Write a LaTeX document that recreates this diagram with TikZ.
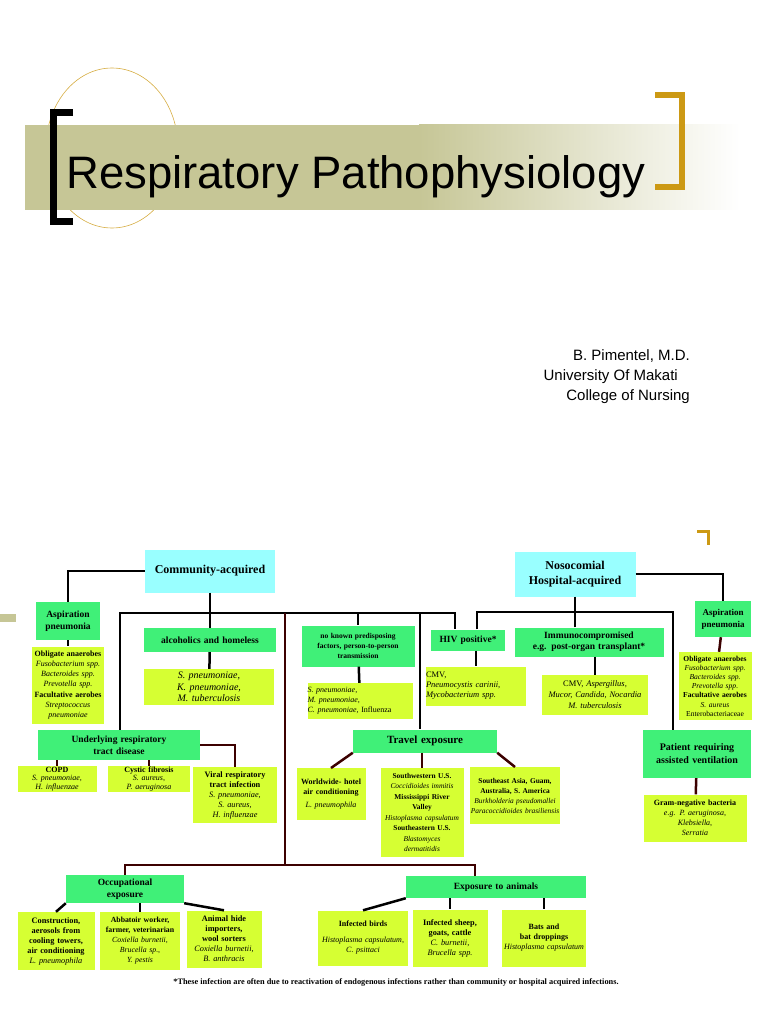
\documentclass[tikz,border=0pt]{standalone}
\usepackage{fontspec}
\setmainfont{Liberation Serif}
\newfontfamily\sansf{Liberation Sans}
\usetikzlibrary{positioning}

\definecolor{boxcyan}{RGB}{153,255,255}
\definecolor{boxgreen}{RGB}{64,240,120}
\definecolor{boxyellow}{RGB}{214,255,51}
\definecolor{titleolive}{RGB}{198,198,150}
\definecolor{bracketgold}{RGB}{204,153,20}
\definecolor{linkred}{RGB}{60,0,0}

\tikzset{
	box/.style={draw=none, align=center, inner xsep=0pt, inner ysep=0pt, font=\bfseries\fontsize{8.5}{9.5}\selectfont},
	cbox/.style={box, fill=boxcyan, font=\bfseries\fontsize{12}{15}\selectfont},
	gbox/.style={box, fill=boxgreen},
	ybox/.style={box, fill=boxyellow, font=\fontsize{7.5}{8.6}\selectfont},
	sz/.style 2 args={text width=#1pt, minimum height=#2pt},
	link/.style={line width=2.5pt, black},
	dlink/.style={line width=2.5pt, linkred},
}

\begin{document}
\begin{tikzpicture}[x=1pt,y=-1pt]
	\useasboundingbox (0,0) rectangle (768,1024);

	% title area
	\draw[bracketgold!80, line width=0.6pt] (112,148) ellipse (66 and 80);
	\fill[titleolive] (25,125) rectangle (420,210);
	\shade[left color=titleolive, right color=white] (419,125) rectangle (740,210);
	\draw[line width=7pt] (73,113) -- (53,113) -- (53,222) -- (73,222);
	\draw[bracketgold, line width=6pt] (655,95) -- (682,95) -- (682,187) -- (655,187);
	\node[anchor=base west, inner sep=0pt, font=\sansf\fontsize{45.5}{50}\selectfont] (title) at (66,189) {Respiratory Pathophysiology};
	\node[anchor=base east, inner sep=0pt, font=\sansf\fontsize{15}{18}\selectfont] (auth) at (690,360) {B. Pimentel, M.D.};
	\node[anchor=base east, inner sep=0pt, font=\sansf\fontsize{15}{18}\selectfont] (univ) at (678,380) {University Of Makati};
	\node[anchor=base east, inner sep=0pt, font=\sansf\fontsize{15}{18}\selectfont] (coll) at (690,400) {College of Nursing};
	\draw[bracketgold, line width=3pt] (697,531) -- (708,531) -- (708,545);
	\fill[titleolive] (0,614) rectangle (16,622);

	% boxes
	\node[cbox, sz={130}{43}] (comm) at (210,571) {Community-acquired};
	\node[cbox, sz={121}{45}] (noso) at (575,574) {Nosocomial\\Hospital-acquired};
	\node[gbox, sz={64}{38}, font=\bfseries\fontsize{9.5}{12}\selectfont] (aspL) at (68,621) {Aspiration\\pneumonia};
	\node[ybox, sz={72}{77}, font=\fontsize{8}{10.2}\selectfont] (oblL) at (68,685) {\textbf{Obligate anaerobes}\\\textit{Fusobacterium spp.}\\\textit{Bacteroides spp.}\\\textit{Prevotella spp.}\\\textbf{Facultative aerobes}\\\textit{Streptococcus}\\\textit{pneumoniae}};
	\node[gbox, sz={132}{24}, font=\bfseries\fontsize{9.5}{11}\selectfont] (alc) at (210,640) {alcoholics and homeless};
	\node[ybox, sz={130}{36}, font=\itshape\fontsize{10}{11.5}\selectfont] (alcS) at (209,687) {S. pneumoniae,\\K. pneumoniae,\\M. tuberculosis};
	\node[gbox, sz={113}{41}, font=\bfseries\fontsize{7.5}{10}\selectfont] (nok) at (358,646) {no known predisposing\\factors, person-to-person\\transmission};
	\node[ybox, sz={105}{36}, align=left, font=\fontsize{8}{10}\selectfont] (nokS) at (360,701) {\textit{S. pneumoniae,}\\\textit{M. pneumoniae,}\\\textit{C. pneumoniae,} Influenza};
	\node[gbox, sz={74}{21}, font=\bfseries\fontsize{9.5}{11}\selectfont] (hiv) at (468,640) {HIV positive*};
	\node[ybox, sz={100}{39}, align=left, font=\fontsize{8.5}{10}\selectfont] (hivS) at (476,686) {CMV,\\\textit{Pneumocystis carinii,}\\\textit{Mycobacterium spp.}};
	\node[gbox, sz={149}{29}, font=\bfseries\fontsize{9.5}{11}\selectfont] (imm) at (589,642) {Immunocompromised\\e.g. post-organ transplant*};
	\node[ybox, sz={106}{40}, font=\fontsize{8.5}{11}\selectfont] (immS) at (595,695) {CMV, \textit{Aspergillus,}\\\textit{Mucor, Candida, Nocardia}\\\textit{M. tuberculosis}};
	\node[gbox, sz={56}{36}, font=\bfseries\fontsize{9}{12}\selectfont] (aspR) at (723,619) {Aspiration\\pneumonia};
	\node[ybox, sz={73}{68}, font=\fontsize{7.6}{9.2}\selectfont] (oblR) at (715,686) {\textbf{Obligate anaerobes}\\\textit{Fusobacterium spp.}\\\textit{Bacteroides spp.}\\\textit{Prevotella spp.}\\\textbf{Facultative aerobes}\\\textit{S. aureus}\\Enterobacteriaceae};
	\node[gbox, sz={162}{30}, font=\bfseries\fontsize{9.5}{12}\selectfont] (und) at (119,745) {Underlying respiratory\\tract disease};
	\node[ybox, sz={79}{26}, font=\fontsize{8}{8.3}\selectfont] (copd) at (57,779) {\textbf{COPD}\\\textit{S. pneumoniae,}\\\textit{H. influenzae}};
	\node[ybox, sz={82}{26}, font=\fontsize{8}{8.3}\selectfont] (cyst) at (149,779) {\textbf{Cystic fibrosis}\\\textit{S. aureus,}\\\textit{P. aeruginosa}};
	\node[ybox, sz={84}{56}, font=\fontsize{8.3}{10}\selectfont] (viral) at (235,795) {\textbf{Viral respiratory}\\\textbf{tract infection}\\\textit{S. pneumoniae,}\\\textit{S. aureus,}\\\textit{H. influenzae}};
	\node[gbox, sz={144}{23}, font=\bfseries\fontsize{11}{13}\selectfont] (trav) at (425,741) {Travel exposure};
	\node[ybox, sz={69}{52}, anchor=north, font=\fontsize{8}{10}\selectfont] (world) at (331,768) {\textbf{Worldwide- hotel}\\\textbf{air conditioning}\\[3pt]\textit{L. pneumophila}};
	\node[ybox, sz={83}{89}, anchor=north, font=\fontsize{7.4}{10.5}\selectfont] (sw) at (422,768) {\textbf{Southwestern U.S.}\\\textit{Coccidioides immitis}\\\textbf{Mississippi River}\\\textbf{Valley}\\\textit{Histoplasma capsulatum}\\\textbf{Southeastern U.S.}\\\textit{Blastomyces}\\\textit{dermatitidis}};
	\node[ybox, sz={90}{57}, anchor=north, font=\fontsize{7.4}{10}\selectfont] (sea) at (515,767) {\textbf{Southeast Asia, Guam,}\\\textbf{Australia, S. America}\\\textit{Burkholderia pseudomallei}\\\textit{Paracoccidioides brasiliensis}};
	\node[gbox, sz={108}{48}, font=\bfseries\fontsize{10}{13}\selectfont] (pat) at (697,754) {Patient requiring\\assisted ventilation};
	\node[ybox, sz={103}{47}, font=\fontsize{8}{10}\selectfont] (gram) at (695,818) {\textbf{Gram-negative bacteria}\\\textit{e.g. P. aeruginosa,}\\\textit{Klebsiella,}\\\textit{Serratia}};
	\node[gbox, sz={118}{28}, font=\bfseries\fontsize{9.5}{12}\selectfont] (occ) at (125,889) {Occupational\\exposure};
	\node[gbox, sz={180}{22}, font=\bfseries\fontsize{9.5}{11}\selectfont] (ani) at (496,887) {Exposure to animals};
	\node[ybox, sz={77}{58}, font=\fontsize{8.3}{10}\selectfont] (cons) at (56,941) {\textbf{Construction,}\\\textbf{aerosols from}\\\textbf{cooling towers,}\\\textbf{air conditioning}\\\textit{L. pneumophila}};
	\node[ybox, sz={80}{58}, font=\fontsize{7.8}{10}\selectfont] (abb) at (140,941) {\textbf{Abbatoir worker,}\\\textbf{farmer, veterinarian}\\\textit{Coxiella burnetii,}\\\textit{Brucella sp.,}\\\textit{Y. pestis}};
	\node[ybox, sz={75}{57}, font=\fontsize{8.3}{10}\selectfont] (hide) at (224,939) {\textbf{Animal hide}\\\textbf{importers,}\\\textbf{wool sorters}\\\textit{Coxiella burnetii,}\\\textit{B. anthracis}};
	\node[ybox, sz={90}{55}, font=\fontsize{8}{10}\selectfont] (bird) at (363,938) {\textbf{Infected birds}\\[6pt]\textit{Histoplasma capsulatum,}\\\textit{C. psittaci}};
	\node[ybox, sz={75}{57}, font=\fontsize{8.3}{10}\selectfont] (sheep) at (450,938) {\textbf{Infected sheep,}\\\textbf{goats, cattle}\\\textit{C. burnetii,}\\\textit{Brucella spp.}};
	\node[ybox, sz={84}{57}, font=\fontsize{8}{10}\selectfont] (bats) at (544,938) {\textbf{Bats and}\\\textbf{bat droppings}\\\textit{Histoplasma capsulatum}};
	\node[font=\bfseries\fontsize{8.3}{9}\selectfont, inner sep=0pt] (note) at (396,982) {*These infection are often due to reactivation of endogenous infections rather than community or hospital acquired infections.};

	% connectors
	\coordinate (cbL) at (120,613);
	\coordinate (cbR) at (455,613);
	\coordinate (trT) at (285,613);
	\coordinate (trB) at (285,865);
	\coordinate (obL) at (125,865);
	\coordinate (obR) at (475,865);
	\coordinate (nbL) at (477,612);
	\coordinate (nbR) at (673,612);
	\coordinate (tvT) at (420,613);
	\draw[link] (comm.west) -| (aspL.north);
	\draw[link] (aspL) -- (oblL);
	\draw[link] (comm.south) -- (comm.south |- cbL);
	\draw[link] (cbL |- und.north) -- (cbL) -- (cbR) -- (cbR |- hiv.north);
	\draw[link] (alc.north |- cbL) -- (alc.north);
	\draw[link] (alc) -- (alcS);
	\draw[link] (nok.north |- cbL) -- (nok.north);
	\draw[link] (nok) -- (nokS);
	\draw[link] (tvT) -- (tvT |- trav.north);
	\draw[link] (hiv.south -| hivS.north) -- (hivS.north);
	\draw[link] (noso.south) -- (noso.south |- nbL);
	\draw[link] (nbL |- hiv.north) -- (nbL) -- (nbR) -- (nbR |- pat.north);
	\draw[link] (imm.north -| noso.south) -- (noso.south |- nbL);
	\draw[link] (imm.south -| immS.north) -- (immS.north);
	\draw[link] (noso.east) -| (aspR.north);
	\draw[link, linkred] (aspR) -- (oblR);
	\draw[link, linkred] (pat) -- (gram);
	\draw[dlink] (und.south -| copd.north) -- (copd.north);
	\draw[dlink] (und.south -| cyst.north) -- (cyst.north);
	\draw[dlink] (und.east) -| (viral.north);
	\draw[dlink] (trav.south west) -- (world.north);
	\draw[dlink] (trav.south -| sw.north) -- (sw.north);
	\draw[dlink] (trav.south east) -- (sea.north);
	\draw[dlink] (trT) -- (trB);
	\draw[dlink] (obL |- occ.north) -- (obL) -- (obR) -- (obR |- ani.north);
	\draw[link] (occ.south west) -- (cons.north);
	\draw[link] (occ.south -| abb.north) -- (abb.north);
	\draw[link] (occ.south east) -- (hide.north);
	\draw[link] (ani.south west) -- (bird.north);
	\draw[link] (ani.south -| sheep.north) -- (sheep.north);
	\draw[link] (ani.south -| bats.north) -- (bats.north);
\end{tikzpicture}
\end{document}
